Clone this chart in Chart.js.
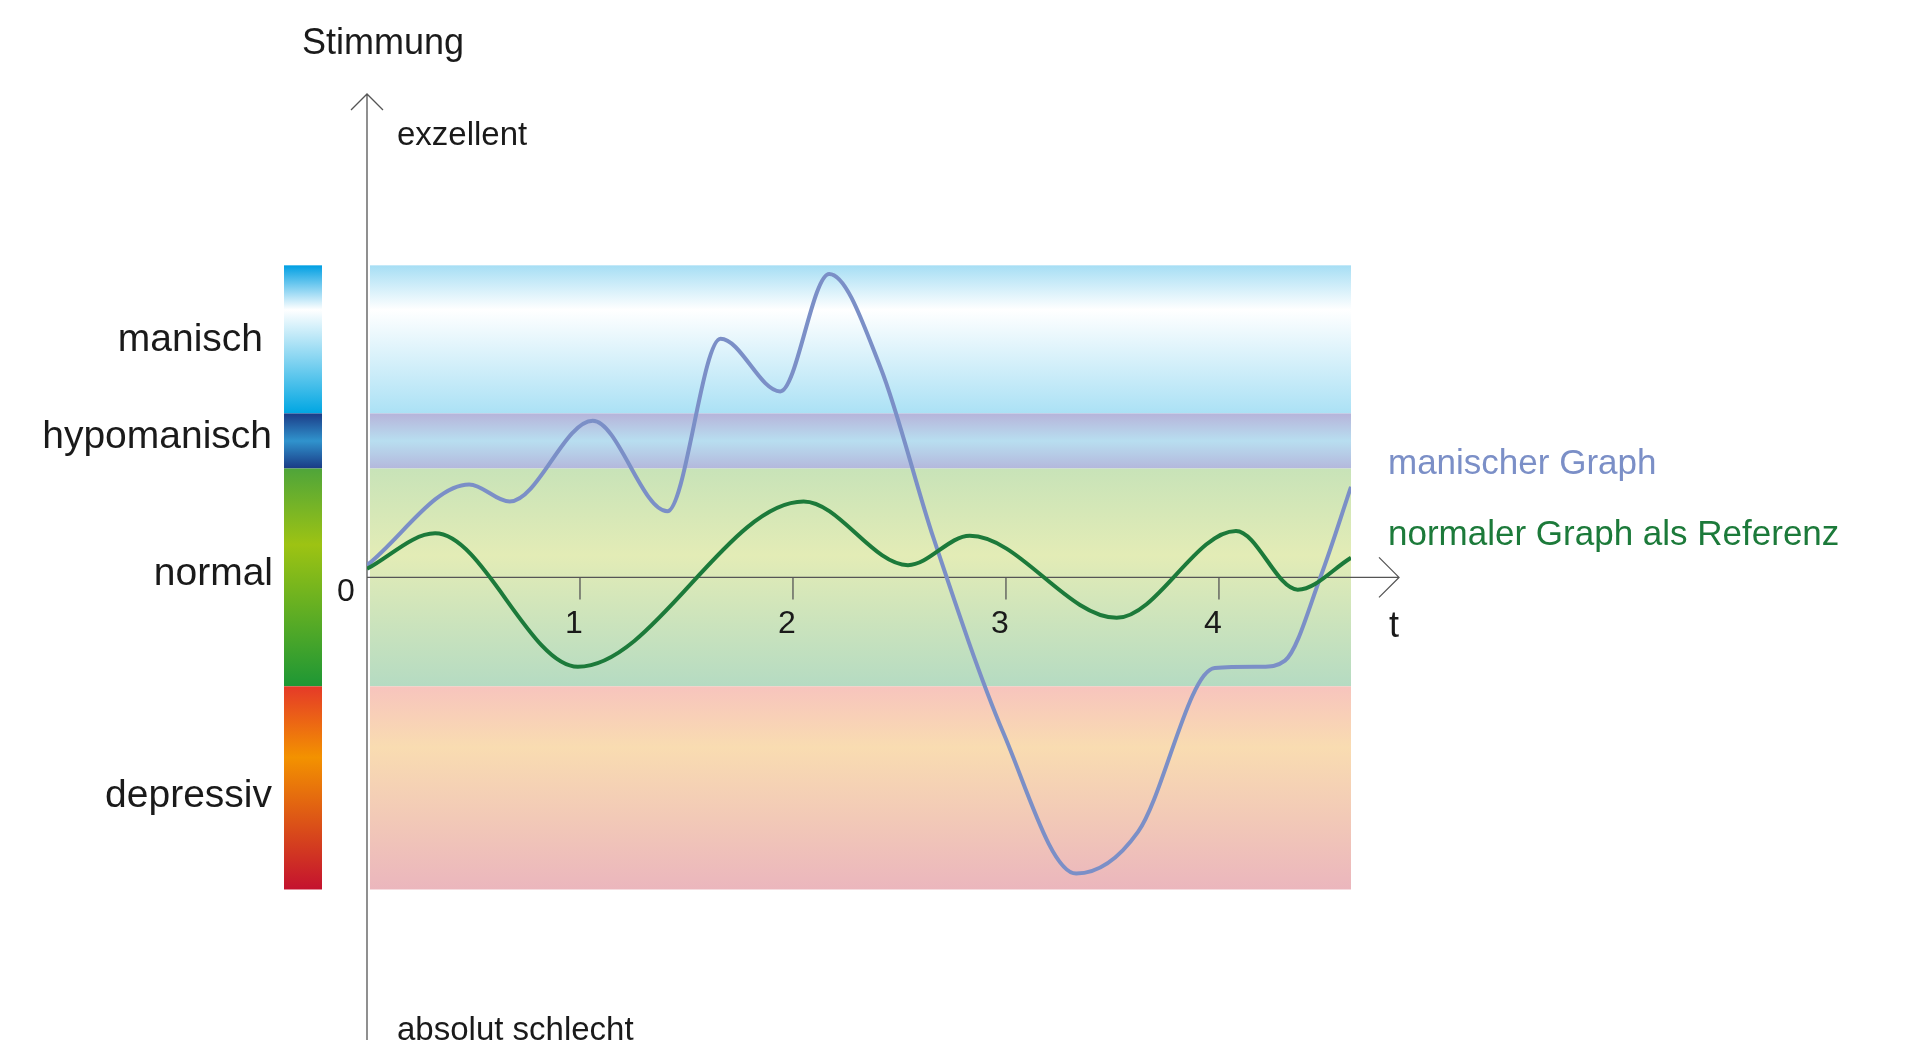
<!DOCTYPE html>
<html><head><meta charset="utf-8">
<script src="https://cdn.jsdelivr.net/npm/chart.js@4"></script>
<style>html,body{margin:0;background:#fff}#w{position:relative;width:1919px;height:1064px}</style>
</head><body><div id="w"><canvas id="c" width="1919" height="1064"></canvas></div>
<script>
const manicT=[0,0.48,0.67,1.06,1.41,1.66,1.94,2.17,2.41,2.66,2.99,3.33,3.62,3.98,4.2,4.31,4.48,4.62];
const manicV=[0.10,0.76,0.62,1.28,0.54,1.95,1.52,2.48,1.72,0.32,-1.28,-2.42,-2.08,-0.74,-0.73,-0.68,0.02,0.74];
const normT=[0,0.32,0.99,2.05,2.54,2.83,3.52,4.08,4.37,4.62];
const normV=[0.07,0.36,-0.73,0.62,0.10,0.34,-0.33,0.38,-0.10,0.16];
const xTicks=[1,2,3,4];
const bandNames=['manisch','hypomanisch','normal','depressiv'];
const bandTop=[2.55,1.34,0.89,-0.89];
const bandBottom=[1.34,0.89,-0.89,-2.55];
const bandFill=[[[0,'#a6def4'],[0.3,'#ffffff'],[1,'#abe1f5']],[[0,'#b6b4da'],[0.5,'#b8def0'],[1,'#b4b8dc']],[[0,'#c8e3b8'],[0.4,'#e3ecb6'],[1,'#b5dbc2']],[[0,'#f7c4bd'],[0.3,'#f9dcb1'],[1,'#ebb6bd']]];
const barFill=[[[0,'#009fe3'],[0.3,'#ffffff'],[1,'#00a6e2']],[[0,'#1b3c87'],[0.5,'#3093cd'],[1,'#1a3a85']],[[0,'#4fa53a'],[0.35,'#9dc313'],[1,'#1e9735']],[[0,'#e53a28'],[0.35,'#f39200'],[1,'#c4122f']]];
const FONT='"Liberation Sans", Arial, sans-serif';
function grad(ctx,y0,y1,stops){const g=ctx.createLinearGradient(0,y0,0,y1);stops.forEach(s=>g.addColorStop(s[0],s[1]));return g;}
const deco={id:'deco',beforeDatasetsDraw(ch){
 const ctx=ch.ctx,x=ch.scales.x,y=ch.scales.y;ctx.save();
 const x0=x.getPixelForValue(0),x1=x.getPixelForValue(4.62),y0=y.getPixelForValue(0);
 bandTop.forEach((t,i)=>{const a=y.getPixelForValue(t),b=y.getPixelForValue(bandBottom[i]);
  ctx.fillStyle=grad(ctx,a,b,bandFill[i]);ctx.fillRect(x0+3,a,x1-x0-3,b-a);
  ctx.fillStyle=grad(ctx,a,b,barFill[i]);ctx.fillRect(284,a,38,b-a);});
 ctx.strokeStyle='#555';ctx.lineWidth=1.3;
 const top=y.getPixelForValue(3.95),bot=y.getPixelForValue(-3.78);
 ctx.beginPath();ctx.moveTo(x0,bot);ctx.lineTo(x0,top);ctx.moveTo(x0-16,top+16);ctx.lineTo(x0,top);ctx.lineTo(x0+16,top+16);
 const xe=1399;ctx.moveTo(x0,y0);ctx.lineTo(xe,y0);ctx.moveTo(xe-20,y0-20);ctx.lineTo(xe,y0);ctx.lineTo(xe-20,y0+20);
 xTicks.forEach(t=>{const p=x.getPixelForValue(t);ctx.moveTo(p,y0);ctx.lineTo(p,y0+22);});
 ctx.stroke();
 ctx.fillStyle='#1a1a1a';ctx.textBaseline='middle';
 ctx.font='32px '+FONT;ctx.textAlign='center';
 xTicks.forEach(t=>ctx.fillText(String(t),x.getPixelForValue(t)-6,624));
 ctx.fillText('0',346,592);
 ctx.font='36px '+FONT;ctx.textAlign='left';ctx.fillText('t',1389,627);
 ctx.fillText('Stimmung',302,44);
 ctx.font='33px '+FONT;ctx.fillText('exzellent',397,136);ctx.fillText('absolut schlecht',397,1031);
 ctx.font='39px '+FONT;ctx.textAlign='right';
 const ly=[340,437,574,796],lx=[263,272,273,272];
 bandNames.forEach((n,i)=>ctx.fillText(n,lx[i],ly[i]));
 ctx.textAlign='left';ctx.font='35px '+FONT;
 ctx.fillStyle='#7b8fc7';ctx.fillText('manischer Graph',1388,464);
 ctx.fillStyle='#1c7a3a';ctx.fillText('normaler Graph als Referenz',1388,535);
 ctx.restore();}};
new Chart(document.getElementById('c'),{type:'line',
 data:{datasets:[
  {label:'normaler Graph als Referenz',data:normT.map((t,i)=>({x:t,y:normV[i]})),borderColor:'#1c7a3a',borderWidth:4,pointRadius:0,cubicInterpolationMode:'monotone'},
  {label:'manischer Graph',data:manicT.map((t,i)=>({x:t,y:manicV[i]})),borderColor:'#7b8fc7',borderWidth:4,pointRadius:0,cubicInterpolationMode:'monotone'}]},
 options:{responsive:false,animation:false,events:[],
  layout:{padding:{left:367,right:1919-1351,top:94,bottom:1064-1040}},
  plugins:{legend:{display:false},tooltip:{enabled:false}},
  scales:{x:{type:'linear',min:0,max:4.62,display:false},y:{min:-3.78,max:3.95,display:false}}},
 plugins:[deco]});
</script></body></html>
